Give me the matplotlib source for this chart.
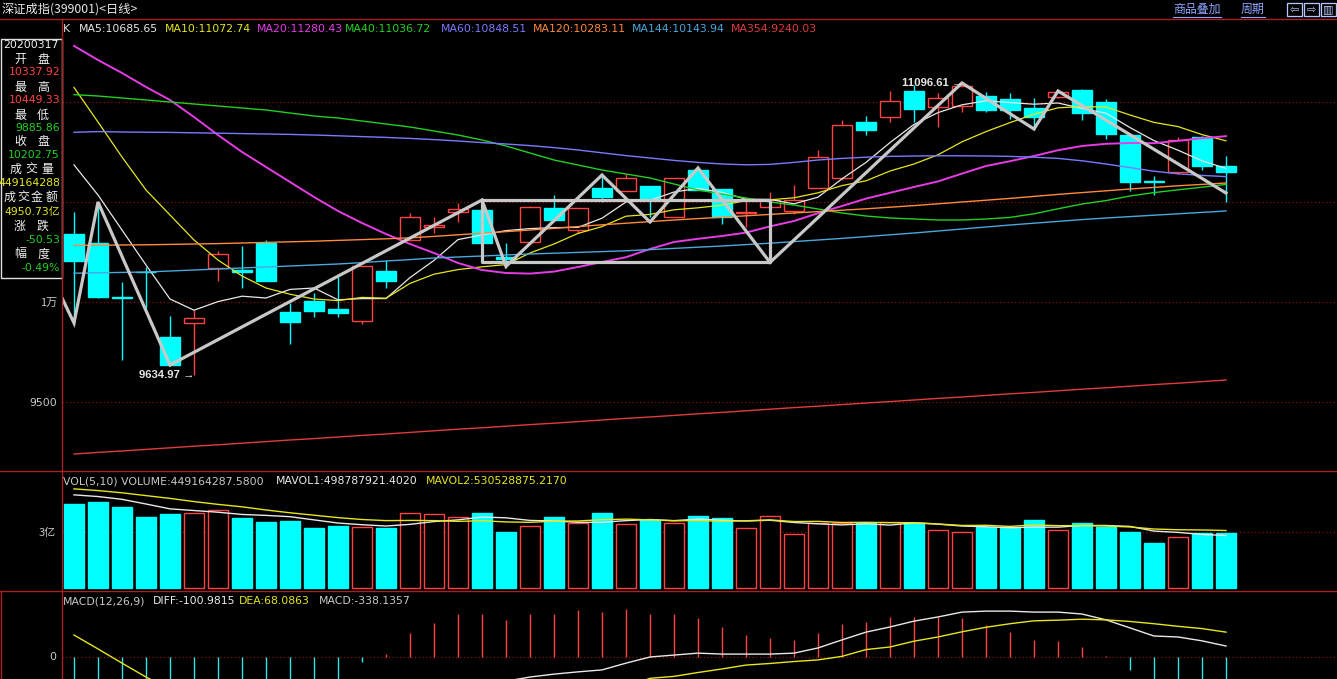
import matplotlib
matplotlib.use('Agg')
import matplotlib.pyplot as plt
from matplotlib.patches import Rectangle
from matplotlib.lines import Line2D

# ---------------- data ----------------
opens = [10337.92, 10295, 10025, 10152, 9825, 9895, 10170, 10160, 10295, 9950,
         10005, 9965, 9905, 10155, 10310, 10375, 10450, 10460, 10225, 10300,
         10470, 10360, 10570, 10555, 10580, 10425, 10660, 10565, 10445, 10475,
         10455, 10570, 10620, 10900, 10925, 11055, 10975, 10980, 11030, 11015,
         10970, 11025, 11060, 11000, 10835, 10605, 10650, 10825, 10680]
highs = [10449.33, 10500, 10100, 10175, 9930, 9960, 10255, 10280, 10310, 9995,
         10045, 10125, 10180, 10210, 10445, 10425, 10495, 10510, 10295, 10480,
         10535, 10470, 10630, 10640, 10580, 10620, 10670, 10565, 10510, 10550,
         10585, 10760, 10910, 10930, 11055, 11085, 11045, 11096.61, 11050, 11045,
         11020, 11065, 11065, 11015, 10835, 10630, 10825, 10830, 10730]
lows = [9885.86, 10020, 9710, 9970, 9680, 9634.97, 10105, 10070, 10105, 9790,
        9925, 9925, 9890, 10070, 10310, 10345, 10400, 10295, 10170, 10290,
        10410, 10345, 10500, 10555, 10425, 10425, 10560, 10390, 10375, 10470,
        10440, 10570, 10610, 10835, 10900, 10900, 10875, 10950, 10950, 10915,
        10860, 11020, 10910, 10815, 10555, 10535, 10640, 10660, 10500]
closes = [10202.75, 10025, 10018, 10148, 9685, 9920, 10240, 10150, 10105, 9900,
          9955, 9945, 10180, 10105, 10425, 10385, 10465, 10295, 10215, 10475,
          10410, 10470, 10525, 10620, 10515, 10620, 10560, 10425, 10452, 10510,
          10510, 10725, 10885, 10860, 11005, 10965, 11020, 11080, 10960, 10960,
          10925, 11050, 10945, 10840, 10600, 10598, 10810, 10680, 10650]

ma5 = [10685.65, 10535, 10360, 10185, 10015, 9959, 10002, 10029, 10020, 10063,
       10070, 10011, 10017, 10017, 10122, 10208, 10312, 10335, 10357, 10367,
       10372, 10373, 10419, 10500, 10508, 10550, 10568, 10548, 10514, 10513,
       10491, 10524, 10616, 10698, 10797, 10888, 10947, 10986, 11006, 10997,
       10989, 10995, 10968, 10944, 10872, 10807, 10759, 10706, 10668]
ma10 = [11072.74, 10900, 10725, 10560, 10435, 10310, 10210, 10130, 10070, 10039,
        10015, 10007, 10023, 10019, 10093, 10139, 10162, 10176, 10187, 10245,
        10290, 10343, 10377, 10429, 10438, 10461, 10471, 10484, 10507, 10511,
        10521, 10546, 10582, 10606, 10655, 10690, 10736, 10801, 10852, 10897,
        10939, 10971, 10977, 10975, 10935, 10898, 10877, 10837, 10806]
ma20 = [11280.43, 11210, 11145, 11075, 11010, 10925, 10835, 10750, 10675, 10600,
        10525, 10455, 10395, 10340, 10290, 10245, 10195, 10160, 10145, 10142,
        10152, 10175, 10200, 10224, 10265, 10300, 10316, 10330, 10347, 10378,
        10405, 10444, 10480, 10517, 10546, 10575, 10603, 10642, 10680, 10704,
        10730, 10759, 10780, 10791, 10795, 10794, 10806, 10819, 10829]
ma40 = [11036.72, 11030, 11020, 11010, 11000, 10990, 10980, 10970, 10960, 10945,
        10930, 10920, 10905, 10890, 10875, 10855, 10835, 10810, 10780, 10745,
        10710, 10685, 10660, 10640, 10620, 10590, 10560, 10540, 10520, 10500,
        10485, 10465, 10445, 10430, 10420, 10415, 10410, 10410, 10415, 10423,
        10441, 10466, 10490, 10507, 10530, 10547, 10561, 10574, 10588]
ma60 = [10848.51, 10852, 10850, 10849, 10848, 10846, 10844, 10842, 10840, 10838,
        10835, 10831, 10827, 10823, 10818, 10812, 10805, 10797, 10790, 10782,
        10772, 10760, 10746, 10732, 10720, 10708, 10698, 10690, 10686, 10688,
        10698, 10710, 10718, 10724, 10728, 10730, 10731, 10731, 10730, 10728,
        10724, 10718, 10706, 10690, 10672, 10654, 10641, 10633, 10627]
ma120 = [10283.11, 10284, 10285, 10286, 10288, 10290, 10292, 10295, 10298, 10301,
         10304, 10308, 10312, 10316, 10321, 10328, 10336, 10344, 10352, 10360,
         10368, 10377, 10386, 10394, 10402, 10410, 10417, 10424, 10431, 10438,
         10445, 10452, 10459, 10466, 10474, 10482, 10491, 10500, 10509, 10518,
         10528, 10538, 10547, 10556, 10565, 10573, 10581, 10588, 10595]
ma144 = [10143.94, 10146, 10148, 10150, 10155, 10160, 10165, 10170, 10175, 10180,
         10185, 10190, 10197, 10205, 10212, 10220, 10225, 10230, 10235, 10240,
         10244, 10248, 10252, 10256, 10262, 10268, 10274, 10280, 10287, 10294,
         10302, 10310, 10318, 10327, 10336, 10345, 10355, 10365, 10375, 10385,
         10394, 10403, 10412, 10420, 10427, 10434, 10441, 10448, 10455]
ma354 = [9240.03, 9248, 9255, 9263, 9271, 9279, 9286, 9294, 9302, 9310,
         9317, 9325, 9333, 9340, 9348, 9356, 9364, 9371, 9379, 9387,
         9394, 9402, 9410, 9418, 9425, 9433, 9441, 9448, 9456, 9464,
         9472, 9479, 9487, 9495, 9502, 9510, 9518, 9525, 9533, 9541,
         9548, 9556, 9564, 9571, 9579, 9587, 9594, 9602, 9610]

# zigzag turning points (candle index, price) and consolidation box
zz_idx = [0.5, 1, 2, 5, 18, 19, 23, 25, 27, 30, 38, 41, 42, 49]
zz_val = [10020, 9895, 10500, 9685, 10510, 10178, 10635, 10400, 10670, 10198,
          11095, 10865, 11055, 10545]
box_idx = [18, 30]
box_val = [10198, 10510]

# volume in units of 1e8 (亿)
volume = [4.49, 4.61, 4.34, 3.80, 3.96, 4.02, 4.18, 3.75, 3.54, 3.59,
          3.21, 3.32, 3.27, 3.21, 4.02, 3.96, 3.80, 4.02, 3.00, 3.32,
          3.80, 3.48, 4.02, 3.43, 3.64, 3.48, 3.86, 3.75, 3.21, 3.86,
          2.89, 3.48, 3.48, 3.48, 3.54, 3.48, 3.11, 3.00, 3.27, 3.27,
          3.64, 3.11, 3.48, 3.27, 3.00, 2.41, 2.73, 2.95, 2.95]
mavol1 = [4.99, 4.90, 4.75, 4.50, 4.24, 4.15, 4.06, 3.94, 3.89, 3.82,
          3.65, 3.48, 3.39, 3.32, 3.41, 3.56, 3.65, 3.80, 3.76, 3.62,
          3.59, 3.52, 3.52, 3.61, 3.67, 3.61, 3.69, 3.63, 3.59, 3.63,
          3.51, 3.44, 3.38, 3.44, 3.37, 3.49, 3.42, 3.32, 3.28, 3.23,
          3.26, 3.26, 3.35, 3.35, 3.30, 3.05, 2.98, 2.87, 2.81]
mavol2 = [5.31, 5.22, 5.10, 4.95, 4.80, 4.63, 4.48, 4.35, 4.18, 4.03,
          3.90, 3.77, 3.67, 3.61, 3.62, 3.61, 3.57, 3.60, 3.54, 3.52,
          3.58, 3.59, 3.66, 3.69, 3.65, 3.60, 3.61, 3.58, 3.60, 3.65,
          3.56, 3.57, 3.51, 3.52, 3.50, 3.50, 3.43, 3.35, 3.36, 3.30,
          3.38, 3.34, 3.34, 3.32, 3.27, 3.16, 3.12, 3.11, 3.08]

diff = [-101, -140, -175, -205, -235, -250, -255, -255, -250, -245,
        -240, -235, -218, -200, -160, -135, -110, -90, -75, -62,
        -53, -46, -40, -19, 0, 6, 12, 9, 9, 9,
        12, 28, 53, 77, 93, 111, 124, 139, 142, 142,
        139, 139, 133, 115, 90, 65, 62, 50, 34]
dea = [68, 25, -19, -62, -100, -135, -160, -180, -195, -205,
       -210, -212, -210, -205, -197, -187, -176, -156, -132, -128,
       -120, -118, -110, -93, -66, -60, -48, -37, -25, -20,
       -14, -9, 2, 23, 31, 49, 62, 78, 92, 103,
       112, 114, 117, 115, 110, 103, 95, 88, 77]
macd = [-338, -330, -312, -286, -270, -230, -190, -150, -120, -95,
        -80, -72, -15, 8, 74, 105, 133, 133, 115, 133,
        133, 145, 139, 149, 133, 133, 121, 93, 68, 59,
        53, 74, 102, 108, 124, 124, 124, 121, 99, 77,
        53, 50, 31, 2, -40, -76, -70, -76, -86]

info_labels = ["开盘", "最高", "最低", "收盘", "成交量", "成交金额", "涨跌", "幅度"]
info_values = ["10337.92", "10449.33", "9885.86", "10202.75", "449164288", "4950.73亿", "-50.53", "-0.49%"]
ma_legend = [("MA5:10685.65", 79), ("MA10:11072.74", 165), ("MA20:11280.43", 257),
             ("MA40:11036.72", 345), ("MA60:10848.51", 441), ("MA120:10283.11", 533),
             ("MA144:10143.94", 632), ("MA354:9240.03", 731)]

# ---------------- style ----------------
W, H = 1337, 679
CYAN = '#00ffff'
RED = '#ff4242'
GRID = '#8a1010'
FRAME = '#a82020'
ma_colors = ['#e8e8e8', '#e6e61e', '#e63ce6', '#22d022', '#7a7aff', '#ff8a3c', '#4aa8dc', '#e03c3c']
ma_series = [ma5, ma10, ma20, ma40, ma60, ma120, ma144, ma354]
ma_lw = [0.9, 0.9, 1.4, 1.0, 1.0, 1.0, 1.0, 1.0]

fig = plt.figure(figsize=(W / 100, H / 100), dpi=100, facecolor='black')


def ax_px(x0, y0, x1, y1):
    a = fig.add_axes([x0 / W, 1 - y1 / H, (x1 - x0) / W, (y1 - y0) / H])
    a.set_facecolor('black')
    for s in a.spines.values():
        s.set_visible(False)
    a.set_xticks([])
    a.set_yticks([])
    return a


def ftext(x, y, s, color, size=7.8, ha='left', va='center', family=None, weight='normal'):
    fig.text(x / W, 1 - y / H, s, color=color, fontsize=size, ha=ha, va=va,
             family=family or ['DejaVu Sans'], fontweight=weight)


def fline(x0, y0, x1, y1, color, lw=1.0, ls='-'):
    fig.add_artist(Line2D([x0 / W, x1 / W], [1 - y0 / H, 1 - y1 / H],
                          transform=fig.transFigure, color=color, lw=lw, ls=ls))


n = len(closes)
idx = list(range(1, n + 1))
XL = (0.5, 53.625)

# ---------------- price panel ----------------
ax = ax_px(62, 20, 1337, 470)
ax.set_xlim(*XL)
ax.set_ylim(9160, 11410)
for g in [11000, 10500, 10000, 9500]:
    ax.axhline(g, color=GRID, lw=0.9, ls=(0, (1, 2)), zorder=1)

bw = 0.86
for k, o, h, l, c in zip(idx, opens, highs, lows, closes):
    up = c >= o
    col = RED if up else CYAN
    ax.vlines(k, l, h, color=col, lw=1.0, zorder=2)
    bot = min(o, c)
    ht = max(abs(c - o), 1.0)
    ax.add_patch(Rectangle((k - bw / 2, bot), bw, ht,
                           facecolor='black' if up else CYAN, edgecolor=col,
                           lw=1.0, zorder=2.5))

for ser, col, lw in zip(ma_series, ma_colors, ma_lw):
    ax.plot(idx, ser, color=col, lw=lw, zorder=3)

ZZ = '#c8c8c8'
ax.plot(zz_idx, zz_val, color=ZZ, lw=2.3, zorder=4, solid_joinstyle='miter')
ax.plot([box_idx[0], box_idx[1], box_idx[1], box_idx[0], box_idx[0]],
        [box_val[1], box_val[1], box_val[0], box_val[0], box_val[1]],
        color=ZZ, lw=2.3, zorder=4)

ax.text(38.05, 11096.61, '11096.61 →', color='#e6e6e6', fontsize=8.2, ha='right', va='center',
        family=['Liberation Sans', 'DejaVu Sans'], fontweight='bold', zorder=5)
ax.text(6.0, 9634.97, '9634.97 →', color='#e6e6e6', fontsize=8.2, ha='right', va='center',
        family=['Liberation Sans', 'DejaVu Sans'], fontweight='bold', zorder=5)

# ---------------- volume panel ----------------
axv = ax_px(62, 471, 1337, 590)
axv.set_xlim(*XL)
axv.set_ylim(-0.107, 6.268)
axv.axhline(3.0, color=GRID, lw=0.9, ls=(0, (1, 2)), zorder=1)
for k, v, o, c in zip(idx, volume, opens, closes):
    up = c >= o
    axv.add_patch(Rectangle((k - 0.42, 0), 0.84, v,
                            facecolor='black' if up else CYAN,
                            edgecolor=RED if up else CYAN, lw=1.0, zorder=2))
axv.plot(idx, mavol1, color='#e8e8e8', lw=1.0, zorder=3)
axv.plot(idx, mavol2, color='#e6e61e', lw=1.0, zorder=3)

# ---------------- MACD panel ----------------
axm = ax_px(62, 591, 1337, 679)
axm.set_xlim(*XL)
axm.set_ylim(-68.1, 204.3)
axm.axhline(0, color=GRID, lw=0.9, ls=(0, (1, 2)), zorder=1)
for k, m in zip(idx, macd):
    axm.vlines(k, 0, m, color=RED if m >= 0 else '#2ee6e6', lw=1.0, zorder=2)
axm.plot(idx, diff, color='#e8e8e8', lw=1.0, zorder=3)
axm.plot(idx, dea, color='#e6e61e', lw=1.0, zorder=3)

# ---------------- frame lines ----------------
fline(0, 18.5, W, 18.5, FRAME, 1.0)
fline(0, 470.5, W, 470.5, FRAME, 1.0)
fline(0, 590.5, W, 590.5, FRAME, 1.0)
fline(61.5, 18.5, 61.5, H, FRAME, 1.0)
fline(0.6, 590.5, 0.6, H, FRAME, 1.0)

# ---------------- title bar ----------------
ftext(2, 9.5, '深证成指(399001)<日线>', '#e8e8e8', size=8.8, family=['Noto Sans CJK SC', 'DejaVu Sans'])
LINK = '#8ea6ff'
ftext(1173, 9, '商品叠加', LINK, size=8.6, family=['Noto Sans CJK SC'])
fline(1173, 16.5, 1221, 16.5, LINK, 0.8)
ftext(1241, 9, '周期', LINK, size=8.6, family=['Noto Sans CJK SC'])
fline(1241, 16.5, 1265, 16.5, LINK, 0.8)
for bx, sym in zip([1287, 1304, 1321], ['⇦', '⇨', '▥']):
    fig.add_artist(Rectangle((bx / W, 1 - 16 / H), 15 / W, 13 / H, transform=fig.transFigure,
                             facecolor='black', edgecolor='#b8c8ff', lw=0.9))
    ftext(bx + 7.5, 9.5, sym, '#b8c8ff', size=8, ha='center')

# ---------------- legends ----------------
ftext(63, 29, 'K', '#e0e0e0')
for (s, x), col in zip(ma_legend, ma_colors):
    ftext(x, 29, s, col)

ftext(63, 481, 'VOL(5,10) VOLUME:449164287.5800', '#c8c8c8')
ftext(276, 481, 'MAVOL1:498787921.4020', '#ececec')
ftext(426, 481, 'MAVOL2:530528875.2170', '#e6e61e')

ftext(63, 601, 'MACD(12,26,9)', '#c8c8c8')
ftext(153, 601, 'DIFF:-100.9815', '#ececec')
ftext(239, 601, 'DEA:68.0863', '#e6e61e')
ftext(319, 601, 'MACD:-338.1357', '#c8c8c8')

# axis labels
ftext(57, 303, '1万', '#c8c8c8', size=8, ha='right', family=['Noto Sans CJK SC'])
ftext(57, 403, '9500', '#c8c8c8', size=7.8, ha='right')
ftext(56, 533, '3亿', '#c8c8c8', size=8, ha='right', family=['Noto Sans CJK SC'])
ftext(56, 657, '0', '#c8c8c8', size=7.8, ha='right')

# ---------------- info panel ----------------
fig.add_artist(Rectangle((0.5 / W, 1 - 278 / H), 61 / W, 239 / H, transform=fig.transFigure,
                         facecolor='black', edgecolor='#e0e0e0', lw=1.0))
ftext(59, 45, '20200317', '#f0f0f0', ha='right')
label_y = [59, 87, 115, 141, 169, 197, 226, 254]
value_y = [72, 100, 128, 155, 183, 212, 240, 268]
value_col = [RED, RED, '#22d022', '#22d022', '#e6e61e', '#e6e61e', '#22d022', '#22d022']
char_x = {2: [20, 43], 3: [15, 31, 47], 4: [9, 23, 37, 51]}
for s, y in zip(info_labels, label_y):
    for ch, x in zip(s, char_x[len(s)]):
        ftext(x, y, ch, '#f0f0f0', size=8.6, ha='center', family=['Noto Sans CJK SC'])
for s, y, c in zip(info_values, value_y, value_col):
    ftext(60, y, s, c, ha='right', family=['DejaVu Sans', 'Noto Sans CJK SC'])

fig.savefig('out.png', dpi=100, facecolor='black')
